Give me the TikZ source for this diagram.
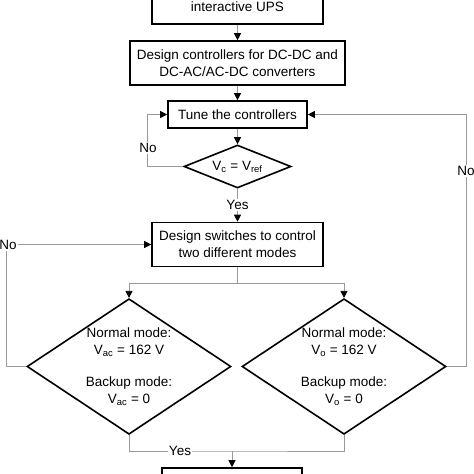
\documentclass[tikz,border=0pt]{standalone}
\usepackage{fontspec}
\setmainfont{Liberation Sans}
\usepackage{tikz}
\usetikzlibrary{shapes.geometric,arrows.meta,positioning}
\tikzset{
	process/.style={
		draw, rectangle, line width=1.6pt,
		align=center, inner sep=0pt, text=black
	},
	test/.style={
		draw, diamond, line width=1.6pt,
		align=center, inner sep=0pt, aspect=1.5
	},
	flow_line/.style={draw=black!40, line width=0.8pt},
	flow_arrow/.style={flow_line, -{Triangle[length=7pt,width=7pt,color=black]}},
	tag/.style={fill=white, inner sep=1pt}
}

\begin{document}
\begin{tikzpicture}[x=1pt, y=-1pt, font=\fontsize{13.5}{17}\selectfont]
				\useasboundingbox (0,0) rectangle (474,474);
				\clip (0,0) rectangle (474,474);
				\node[process, minimum width=171pt, minimum height=42pt] (ups) at (237.5,3) {\mbox{}\\interactive UPS};
				\node[process, minimum width=215pt, minimum height=44pt] (ctrl) at (237.5,63) {Design controllers for DC-DC and\\DC-AC/AC-DC converters};
				\node[process, minimum width=139pt, minimum height=27pt] (tune) at (237.5,114.5) {Tune the controllers};
				\node[test, aspect=2.5, minimum width=107pt, minimum height=43pt] (check) at (237.5,166.5) {V\textsubscript{c} = V\textsubscript{ref}};
				\node[process, minimum width=171pt, minimum height=44pt] (switch) at (237.5,244.5) {Design switches to control\\two different modes};
				\node[test, minimum width=204pt, minimum height=135pt] (acmode) at (129,366.5) {Normal mode:\\V\textsubscript{ac} = 162 V\\[15pt]Backup mode:\\V\textsubscript{ac} = 0};
				\node[test, minimum width=204pt, minimum height=135pt] (omode) at (344,366.5) {Normal mode:\\V\textsubscript{o} = 162 V\\[15pt]Backup mode:\\V\textsubscript{o} = 0};
				\node[process, minimum width=140pt, minimum height=44pt] (final) at (232,490) {};
				\coordinate (split) at (237.5,283);
				\coordinate (merge) at (232,451);
				\draw[flow_arrow] (ups) -- (ctrl);
				\draw[flow_arrow] (ctrl) -- (tune);
				\draw[flow_arrow] (tune) -- (check);
				\draw[flow_arrow] (check.west) -- ++(-36,0) |- (tune.west);
				\draw[flow_arrow] (check) -- (switch);
				\draw[flow_arrow] (omode.east) -- ++(20,0) |- (tune.east);
				\draw[flow_arrow] (acmode.west) -- ++(-20,0) |- (switch.west);
				\draw[flow_line] (switch) -- (split);
				\draw[flow_arrow] (split) -| (acmode.north);
				\draw[flow_arrow] (split) -| (omode.north);
				\draw[flow_line] (acmode.south) |- (merge) -| (omode.south);
				\draw[flow_arrow] (merge) -- (final);
				\node[tag] (no_check) at (148,148) {No};
				\node[tag] (yes_check) at (237.5,205) {Yes};
				\node[tag] (no_omode) at (466,171) {No};
				\node[tag] (no_acmode) at (8,245) {No};
				\node[tag] (yes_modes) at (180,451) {Yes};
			\end{tikzpicture}
\end{document}
